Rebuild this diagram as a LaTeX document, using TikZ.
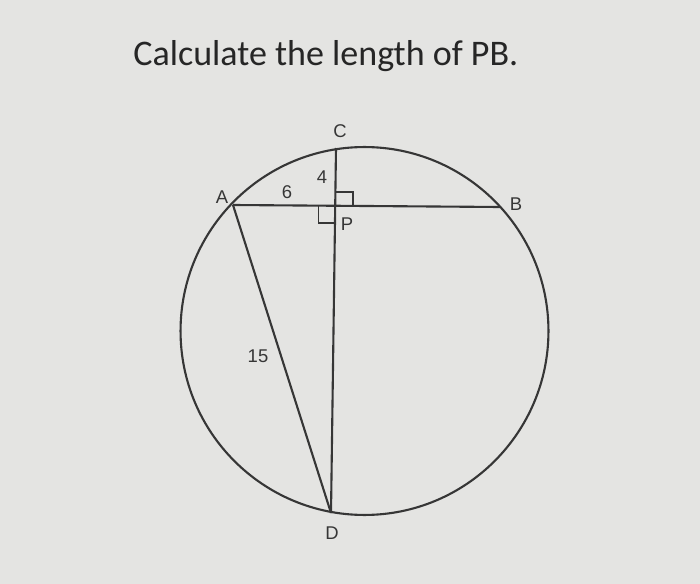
\documentclass[tikz,border=0pt]{standalone}
\usepackage{fontspec}
\setmainfont{Liberation Sans}
\newfontfamily\titlefont{Carlito}
\usetikzlibrary{calc}
\definecolor{bg}{HTML}{E4E4E2}
\definecolor{ink}{HTML}{363636}
\definecolor{titleink}{HTML}{262626}
\begin{document}
\begin{tikzpicture}[x=0.02cm,y=-0.02cm,
  geom/.style={draw=ink,line width=1.2pt},
  lbl/.style={text=ink,font=\fontsize{10.5}{12}\selectfont,inner sep=0pt},
  rightmark/.style={draw=ink,line width=1pt}]
\fill[bg] (0,0) rectangle (700,584);
\useasboundingbox (0,0) rectangle (700,584);
\node[anchor=base west,inner sep=0pt,text=titleink,font=\titlefont\fontsize{20.5}{24}\selectfont] (title) at (133,66) {Calculate the length of PB.};
\coordinate (O) at (364.5,331);
\coordinate (A) at (233,205);
\coordinate (B) at (500,207);
\coordinate (C) at (336,148);
\coordinate (D) at (331,513);
\coordinate (P) at (335.5,206);
\draw[geom] (O) circle[radius=3.68cm];
\draw[geom] (A) -- (B);
\draw[geom] (C) -- (D);
\draw[geom] (A) -- (D);
\draw[rightmark] ($(P)+(0.5,-14)$) -- ++(17,0) -- ++(0,14.5);
\draw[rightmark] ($(P)+(-17,0)$) -- ++(0,17) -- ++(17,0);
\node[lbl] (lC) at (340,131) {C};
\node[lbl] (lA) at (222,197) {A};
\node[lbl] (l6) at (287,192) {6};
\node[lbl] (l4) at (322,177) {4};
\node[lbl] (lB) at (516,204) {B};
\node[lbl] (lP) at (347,224) {P};
\node[lbl] (l15) at (258,356) {15};
\node[lbl] (lD) at (332,533) {D};
\end{tikzpicture}
\end{document}
